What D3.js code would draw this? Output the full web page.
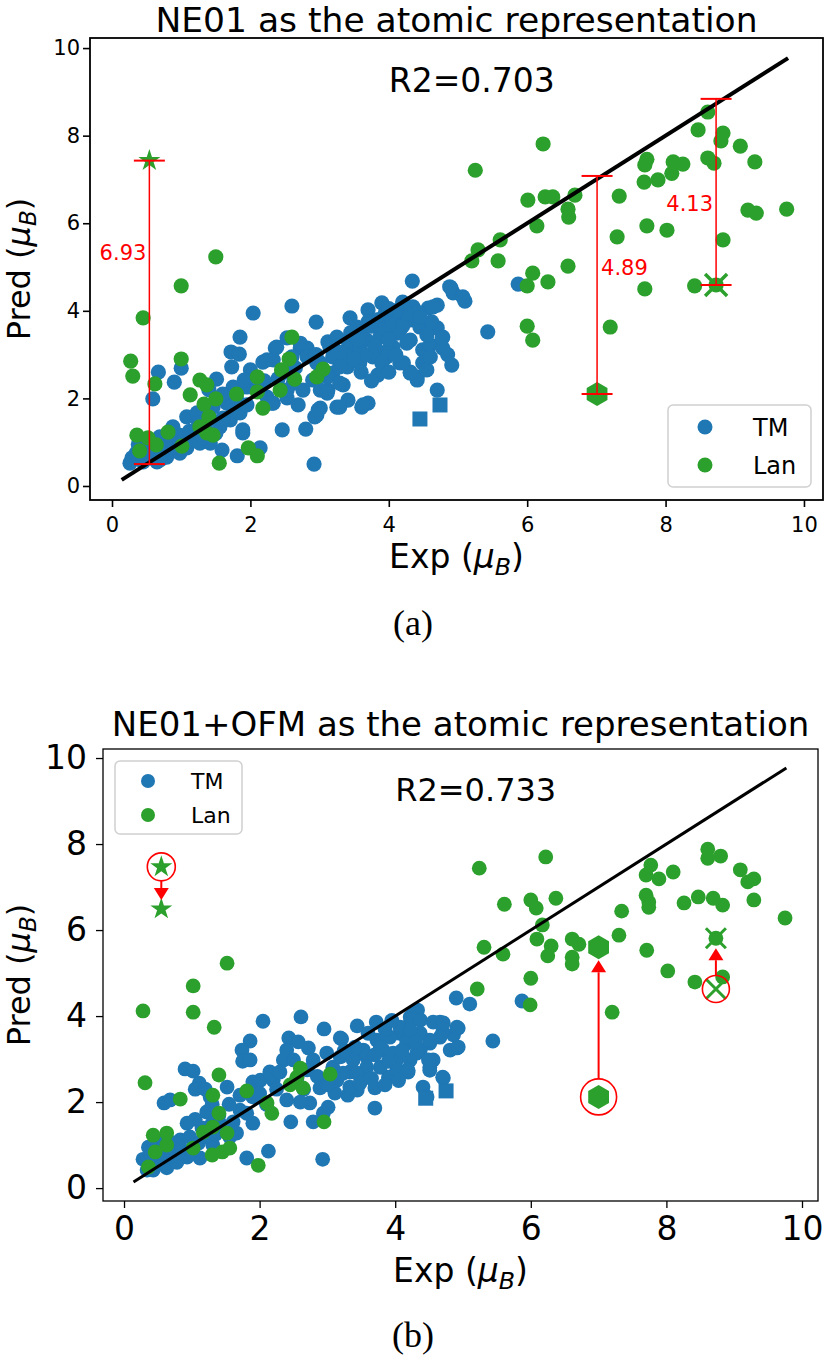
<!DOCTYPE html>
<html><head><meta charset="utf-8">
<script src="https://cdn.jsdelivr.net/npm/d3@7"></script>
<style>
body{margin:0;background:#fff}
svg{display:block}
</style>
</head><body>
<svg id="c" width="825" height="1361" font-family="DejaVu Sans, sans-serif"></svg>
<script>
// ---------------- DATA ----------------
const xTicks = [0, 2, 4, 6, 8, 10];
const yTicks = [0, 2, 4, 6, 8, 10];
const seriesNames = ["TM", "Lan"];
const titles = ["NE01 as the atomic representation", "NE01+OFM as the atomic representation"];
const r2Labels = ["R2=0.703", "R2=0.733"];
const captions = ["(a)", "(b)"];

// Panel (a): [Exp, Pred]
const tmA = [
[0.29,0.64],[0.26,0.52],[0.45,0.55],[0.65,0.55],[0.79,0.66],[0.98,0.75],[0.88,0.89],[1.08,0.87],[0.88,1.35],[0.69,1.12],[0.55,1.05],[1.17,1.05],[1.27,0.98],[1.42,0.98],[1.23,1.23],[1.08,1.58],[1.23,1.67],[1.56,1.35],[1.71,1.51],[1.75,1.74],[1.85,1.67],[1.95,1.85],[1.66,1.89],[1.46,1.80],[1.75,2.26],[1.95,2.26],[2.24,2.03],[2.33,1.89],[2.47,2.19],[2.62,2.35],[2.76,2.19],[2.90,2.42],
[0.35,0.75],[0.40,0.62],[0.55,0.70],[0.60,0.85],[0.72,0.80],[0.75,0.95],[0.95,1.00],[1.00,1.15],[1.12,1.25],[0.50,0.90],[0.38,0.95],[1.30,1.10],[1.35,1.40],[1.50,1.20],[1.60,1.55],[1.25,1.45],[0.92,1.20],[1.05,0.95],[0.82,1.05],[0.70,0.60],
[2.04,3.95],[2.60,4.11],[2.95,3.74],[1.85,3.40],[1.72,3.06],[1.84,3.01],[1.73,2.72],[0.67,2.60],[0.90,2.37],[1.00,2.69],[0.59,1.99],[1.51,2.44],[2.00,2.65],[1.91,2.42],[2.18,2.83],[2.36,3.15],[2.33,2.88],[2.53,3.38],[2.72,3.15],[2.82,3.15],[2.46,1.28],[2.80,1.30],[2.92,0.50],[1.81,0.69],[1.89,1.21],[1.59,0.82],[2.14,0.87],[2.69,1.85],[2.53,2.01],[2.96,1.62],[3.01,1.78],[3.25,1.80],[3.41,1.96],[3.61,1.80],[3.70,1.89],[3.84,2.53],[4.16,2.81],[4.41,2.49],[3.34,2.31],[3.12,2.19],[3.01,2.81],[3.15,3.17],[3.44,3.84],[3.70,4.02],[3.90,4.18],[3.48,3.17],[3.68,3.33],[3.92,3.04],[4.16,3.56],[3.19,2.58],[3.40,2.72],[3.58,2.81],[3.77,2.95],[4.02,3.17],[4.31,3.33],[4.16,3.86],[4.35,4.09],
[4.34,4.68],[4.90,4.52],[4.93,4.41],[5.10,4.22],[5.43,3.52],[4.70,4.13],[4.57,4.06],[4.41,3.97],[4.70,3.61],[4.78,3.40],[4.49,3.11],[4.60,3.22],[4.78,3.15],[4.49,2.81],[4.91,2.76],[4.31,2.60],[4.41,2.42],[4.70,2.19],[4.12,3.49],[4.26,3.26],[4.06,3.17],[3.87,3.40],[3.54,3.63],[3.40,3.33],[3.58,3.11],[3.97,2.95],[3.40,2.95],[3.19,2.95],[3.19,3.26],[3.29,2.72],[2.72,3.26],[2.38,3.17],[2.24,2.88],[2.82,2.95],[2.96,2.81],[3.12,3.29],[3.11,2.49],[3.29,2.35],[3.01,2.19],[3.11,2.12],[3.29,1.80],[3.63,1.85],[2.98,1.74],[2.93,1.58],[1.89,1.28],[2.31,1.89],[2.53,2.19],
[4.88,4.55],[5.07,4.32],[5.87,4.61],[4.64,4.09],[4.31,3.79],[4.45,3.63],[4.77,3.38],[4.21,2.81],[4.31,2.58],
[3.60,3.50],[3.75,3.65],[3.85,3.80],[3.95,3.60],[4.05,3.75],[4.20,3.65],[4.00,3.35],[3.80,3.20],[3.65,3.00],[3.50,2.90],[3.90,2.80],[4.10,3.00],[3.30,3.05],[3.55,3.35],[4.25,3.95],[4.10,4.00],[3.95,3.95],[3.70,3.75],[3.45,3.50],[3.25,3.40],[2.95,3.00],[3.05,2.65],[2.65,2.70],[2.50,2.60],[2.40,2.45],[2.20,2.40],[2.10,2.20],[1.80,2.00],[1.60,2.10],[1.40,2.20],[2.60,2.95],[3.60,2.60],[3.75,2.40],[4.00,2.60],[4.55,2.65],[4.60,2.95],[4.85,3.00],[4.55,3.45],[4.62,3.75],[4.45,3.85],[4.20,4.20],[4.00,4.05]
];
const tmSquaresA = [[4.45,1.53],[4.74,1.85]];
const lanA = [
[1.00,4.57],[1.50,5.23],[0.45,3.84],[0.27,2.85],[0.30,2.51],[0.62,2.33],[1.00,2.90],[2.60,3.40],[2.56,2.90],[2.45,2.65],[2.64,2.44],[2.43,2.19],[2.10,2.49],[2.10,2.15],[2.18,1.78],[1.80,2.10],[2.96,2.49],[3.05,2.67],[1.27,2.42],[1.37,2.31],[1.13,2.08],[1.50,1.99],[1.33,1.87],[1.40,1.58],[1.27,1.35],[1.46,1.16],[1.37,1.21],[0.81,1.23],[0.36,1.16],[0.52,1.10],[0.64,0.94],[0.40,0.80],[1.01,0.91],[1.97,0.87],[2.10,0.69],[1.55,0.52],
[5.29,5.39],[5.20,5.14],[5.61,5.62],[5.58,5.14],
[6.23,7.81],[5.25,7.21],[6.01,6.53],[6.26,6.60],[6.37,6.60],[6.69,6.64],[6.59,6.32],[6.60,6.14],[6.14,5.94],[7.33,6.62],[7.73,7.46],[7.70,7.33],[7.69,6.94],[7.89,6.99],[8.11,7.40],[8.25,7.35],[8.09,7.14],[8.61,8.54],[8.47,8.13],[8.83,8.06],[8.80,7.88],[9.08,7.76],[9.29,7.40],[8.61,7.49],[8.70,7.37],[9.19,6.30],[9.31,6.23],[9.75,6.32],[8.83,5.62],[7.73,5.94],[8.02,5.84],[7.30,5.69],[6.59,5.02],[6.08,4.86],[6.00,4.57],[6.30,4.66],[7.70,4.50],[8.42,4.57],[6.00,3.65],[6.08,3.33],[7.20,3.63]
];
// highlighted samples in (a): [Exp, Pred, bar end]
const starA = [0.54, 7.43, 0.50];
const hexA  = [7.01, 2.10, 7.08];
const crossA = [8.73, 4.59, 8.84];
const barLabelsA = ["6.93", "4.89", "4.13"];
const barLabelY = [5.34, 4.98, 6.46];

// Panel (b)
const tmB = [
[2.05,3.88],[2.61,3.98],[2.95,3.70],[3.44,3.77],[3.72,3.86],[3.21,3.47],[1.86,3.42],[1.74,3.21],[1.75,2.95],[1.86,2.98],[2.43,3.49],[2.57,3.40],[2.72,3.26],[2.40,3.21],[2.35,2.98],[2.50,2.98],[2.79,2.98],[0.90,2.77],[1.02,2.72],[1.11,2.44],[1.05,2.30],[1.52,2.35],[1.27,2.12],[0.59,1.98],[0.68,2.05],[1.90,2.47],[2.01,2.51],[2.15,2.70],[2.20,2.51],[1.90,2.12],[1.71,2.16],[1.22,1.77],[0.93,1.51],[1.71,1.81],[1.90,1.51],[1.81,1.74],[1.61,1.54],[1.66,1.28],[1.56,1.19],[1.31,1.00],[1.12,0.70],[0.93,0.72],[0.83,1.12],[0.97,1.19],[0.73,1.05],[0.63,0.72],[0.63,0.47],[0.43,0.42],[0.28,0.67],[0.34,0.42],[0.36,0.95],[0.78,0.60],[1.81,0.70],[2.13,0.86],[2.93,0.67],[2.46,1.54],[2.79,1.54],[3.01,1.88],[2.94,1.74],[3.70,1.86],[2.74,1.98],[2.60,2.00],[2.40,2.05],[2.89,2.33],[3.11,2.21],[3.30,2.16],[3.44,2.28],[3.70,2.33],[3.90,2.58],[4.19,2.70],[3.14,2.51],[3.33,2.70],[3.53,2.56],[4.02,2.98],[4.07,3.60],[4.22,3.84],[3.53,3.21],[3.73,3.44],[3.38,3.05],[3.82,3.21],[3.08,2.81],[2.99,3.14],
[4.90,4.42],[5.10,4.28],[5.44,3.42],[4.33,4.14],[4.22,3.98],[4.66,3.86],[4.93,3.72],[4.86,3.56],[4.70,3.63],[4.91,3.26],[4.81,3.21],[4.51,3.37],[4.37,3.21],[4.56,2.98],[4.51,2.81],[4.22,2.98],[4.17,2.74],[4.70,2.58],[4.41,2.35],[4.47,2.12],[3.19,3.49],[3.41,3.28],[3.58,3.05],[3.78,3.28],[3.92,3.51],[4.07,3.74],[4.17,3.44],[3.97,3.14],[3.78,2.81],[3.58,2.81],[3.38,2.98],[3.19,3.05],[3.23,2.67],[3.44,2.67],[4.02,2.74],[3.33,2.35],[3.48,2.44],
[4.27,4.07],[4.37,3.91],[4.56,3.86],[4.71,3.84],[4.91,3.74],[4.93,3.28],[4.66,3.51],[4.51,3.44],[4.37,3.60],[4.22,3.67],[4.17,3.37],[4.32,3.14],[4.49,2.98],[4.51,2.74],[4.19,2.74],[4.71,2.56],[5.87,4.35],
[0.45,0.60],[0.55,0.80],[0.50,1.00],[0.70,0.85],[0.85,0.90],[1.00,0.85],[1.10,1.05],[1.20,1.20],[1.35,1.25],[1.45,1.45],[1.30,1.50],[1.15,1.40],[0.40,0.75],[0.60,1.10],[1.05,1.60],[1.40,1.70],[1.55,1.95],[1.30,1.95],[1.20,2.30],[2.00,2.20],[2.10,1.95],[2.25,2.30],[2.55,2.55],[2.65,2.30],[2.85,2.60],[3.00,2.40],[2.30,2.70],[2.70,2.75],[3.25,3.20],[3.60,3.60],[3.85,3.70],[3.95,3.90],[4.10,3.20],[3.70,3.10],[3.90,2.95],[3.65,2.55],[4.30,3.40],[4.05,2.50],[3.85,2.40]
];
const tmSquaresB = [[4.45,2.09],[4.75,2.26]];
const lanB = [
[0.28,4.12],[1.02,4.09],[1.02,4.70],[1.52,5.23],[1.33,3.74],[0.31,2.45],[0.83,2.07],[1.40,2.63],[1.31,2.16],[1.40,1.74],[1.81,2.26],[2.11,1.98],[2.18,1.74],[2.45,2.40],[2.60,2.79],[2.55,2.58],[2.64,2.33],[3.04,2.65],[2.95,1.54],[1.52,1.28],[1.31,1.42],[1.17,1.30],[1.02,0.93],[1.30,0.77],[1.45,0.84],[1.56,0.93],[0.43,1.23],[0.63,1.28],[0.63,1.00],[0.46,0.84],[0.36,0.49],[1.98,0.53],
[5.21,4.63],[6.22,7.70],[5.24,7.44],[5.61,6.60],[6.00,6.70],[6.08,6.51],[6.37,6.74],[6.17,6.12],[6.09,5.79],[6.30,5.63],[6.25,5.40],[6.61,5.79],[6.71,5.67],[6.61,5.37],[6.61,5.21],[6.00,4.88],[5.99,4.26],[5.31,5.60],[5.59,5.44],[7.34,6.44],[7.30,5.88],[7.71,5.53],[8.02,5.05],[8.42,4.79],[8.83,4.91],[7.20,4.09],[7.70,6.81],[7.74,6.65],[7.74,6.53],[7.77,7.51],[7.70,7.28],[7.89,7.19],[8.10,7.35],[8.26,6.63],[8.47,6.77],[8.69,6.74],[8.83,6.58],[8.61,7.88],[8.61,7.67],[8.80,7.72],[9.09,7.40],[9.20,7.12],[9.29,7.19],[9.29,6.70],[9.75,6.28]
];
// highlighted samples in (b): [Exp, Pred before, Pred after]
const starB = [0.55, 7.47, 6.49];
const hexB  = [7.00, 2.12, 5.60];
const crossB = [8.73, 4.63, 5.81];
const idealRange = [0.14, 9.77];

// ---------------- DRAW ----------------
const C_TM = "#1f77b4", C_LAN = "#2ca02c", RED = "#ff0000";
const svg = d3.select("#c");

function hexPath(r){
  const pts = d3.range(6).map(k => {const a = Math.PI/2 + k*Math.PI/3; return [r*Math.cos(a), -r*Math.sin(a)];});
  return "M" + pts.map(p => p.join(",")).join("L") + "Z";
}
function muLabel(sel, prefix, fs){
  sel.append("tspan").text(prefix + " (");
  sel.append("tspan").attr("font-style","oblique").text("μ");
  sel.append("tspan").attr("font-style","oblique").attr("font-size", fs*0.72).attr("dy", fs*0.2).text("B");
  sel.append("tspan").attr("dy", -fs*0.2).text(")");
}

function drawPanel(P){
  const g = svg.append("g");
  const x = d3.scaleLinear().domain(P.xDom).range([P.left, P.right]);
  const y = d3.scaleLinear().domain(P.yDom).range([P.bottom, P.top]);
  const R = P.dotR;

  const xa = g.append("g").attr("transform", `translate(0,${P.bottom})`)
    .call(d3.axisBottom(x).tickValues(xTicks).tickFormat(d3.format("d")).tickSize(7).tickPadding(P.xPad));
  const ya = g.append("g").attr("transform", `translate(${P.left},0)`)
    .call(d3.axisLeft(y).tickValues(yTicks).tickFormat(d3.format("d")).tickSize(7).tickPadding(P.yPad));
  [xa, ya].forEach(a => {
    a.attr("font-family", null).attr("font-size", null);
    a.select(".domain").remove();
    a.selectAll(".tick line").attr("stroke","#000").attr("stroke-width", P.tickW);
    a.selectAll(".tick text").attr("font-size", P.tickFs).attr("fill","#000");
  });

  g.append("g").selectAll("circle").data(P.tm).join("circle")
    .attr("cx", d => x(d[0])).attr("cy", d => y(d[1])).attr("r", R).attr("fill", C_TM);
  g.append("g").selectAll("rect").data(P.sq).join("rect")
    .attr("x", d => x(d[0]) - 7.5).attr("y", d => y(d[1]) - 7.5).attr("width", 15).attr("height", 15).attr("fill", C_TM);
  g.append("g").selectAll("circle").data(P.lan).join("circle")
    .attr("cx", d => x(d[0])).attr("cy", d => y(d[1])).attr("r", R).attr("fill", C_LAN);

  g.append("line").attr("x1", x(idealRange[0])).attr("y1", y(idealRange[0]))
    .attr("x2", x(idealRange[1])).attr("y2", y(idealRange[1]))
    .attr("stroke","#000").attr("stroke-width", P.lineW);

  g.append("rect").attr("x", P.left).attr("y", P.top).attr("width", P.right-P.left).attr("height", P.bottom-P.top)
    .attr("fill","none").attr("stroke","#000").attr("stroke-width", P.spineW);

  g.append("text").attr("x", (P.left+P.right)/2).attr("y", P.titleY).attr("text-anchor","middle")
    .attr("font-size", P.titleFs).text(P.title);
  g.append("text").attr("x", x(4)).attr("y", y(9)).attr("font-size", P.r2Fs).text(P.r2);
  const xl = g.append("text").attr("x", (P.left+P.right)/2).attr("y", P.xlabY).attr("text-anchor","middle").attr("font-size", 33);
  muLabel(xl, "Exp", 33);
  const yl = g.append("text").attr("transform", `translate(${P.ylabX},${(P.top+P.bottom)/2}) rotate(-90)`).attr("text-anchor","middle").attr("font-size", 32);
  muLabel(yl, "Pred", 32);
  g.append("text").attr("x", 413).attr("y", P.capY).attr("text-anchor","middle")
    .attr("font-family","Liberation Serif, DejaVu Serif, serif").attr("font-size", 36).text(P.caption);

  const L = P.legend;
  g.append("rect").attr("x", L.x).attr("y", L.y).attr("width", L.w).attr("height", L.h).attr("rx", 5)
    .attr("fill","#fff").attr("fill-opacity",0.8).attr("stroke","#d0d0d0").attr("stroke-width",1.5);
  [C_TM, C_LAN].forEach((c, i) => {
    g.append("circle").attr("cx", L.dotX).attr("cy", L.rowY[i]).attr("r", L.dotR).attr("fill", c);
    g.append("text").attr("x", L.textX).attr("y", L.rowY[i] + L.fs*0.36).attr("font-size", L.fs).text(seriesNames[i]);
  });
  return {g, x, y};
}

// ---- Panel (a)
const A = drawPanel({
  left:90, right:823, top:38, bottom:500, xDom:[-0.318,10.275], yDom:[-0.32,10.23],
  tm:tmA, sq:tmSquaresA, lan:lanA, dotR:7.6, lineW:4, spineW:1.8, tickW:1.6, tickFs:21, xPad:10, yPad:3,
  title:titles[0], titleFs:34.5, titleY:32, r2:r2Labels[0], r2Fs:33, xlabY:568, ylabX:30, caption:captions[0], capY:635,
  legend:{x:668, y:405, w:143, h:82, dotX:705, rowY:[427,465], dotR:7.5, textX:753, fs:24}
});
(function(){
  const {g, x, y} = A;
  g.append("path").attr("d", d3.symbol(d3.symbolStar, 150)()).attr("fill", C_LAN)
    .attr("transform", `translate(${x(starA[0])},${y(starA[1])})`);
  g.append("path").attr("d", hexPath(12)).attr("fill", C_LAN)
    .attr("transform", `translate(${x(hexA[0])},${y(hexA[1])})`);
  const cx = x(crossA[0]), cy = y(crossA[1]);
  g.append("circle").attr("cx", cx).attr("cy", cy).attr("r", 7.6).attr("fill", C_LAN);
  g.append("path").attr("d", "M-11,-11L11,11M-11,11L11,-11").attr("stroke", C_LAN).attr("stroke-width", 3.5)
    .attr("transform", `translate(${cx},${cy})`);
  [starA, hexA, crossA].forEach((s, i) => {
    const px = x(s[0]);
    g.append("line").attr("x1", px).attr("x2", px).attr("y1", y(s[1])).attr("y2", y(s[2]))
      .attr("stroke", RED).attr("stroke-width", 1.5);
    [s[1], s[2]].forEach(v => g.append("line").attr("x1", px-15.5).attr("x2", px+15.5)
      .attr("y1", y(v)).attr("y2", y(v)).attr("stroke", RED).attr("stroke-width", 2));
    const anchorEnd = i !== 1;
    g.append("text").attr("x", px + (anchorEnd ? -3 : 4)).attr("y", y(barLabelY[i])).attr("dy","0.36em")
      .attr("text-anchor", anchorEnd ? "end" : "start").attr("font-size", 21).attr("fill", RED).text(barLabelsA[i]);
  });
})();

// ---- Panel (b)
const B = drawPanel({
  left:103, right:818, top:749, bottom:1201, xDom:[-0.31,10.236], yDom:[-0.30,10.21],
  tm:tmB, sq:tmSquaresB, lan:lanB, dotR:7.4, lineW:3, spineW:1.3, tickW:1.3, tickFs:33, xPad:9, yPad:9,
  title:titles[1], titleFs:34, titleY:736, r2:r2Labels[1], r2Fs:32, xlabY:1282, ylabX:30, caption:captions[1], capY:1347,
  legend:{x:115, y:761, w:127, h:73, dotX:148, rowY:[781,815], dotR:7, textX:191, fs:22}
});
(function(){
  const {g, x, y} = B;
  const arrow = (px, y1, y2) => {
    const dir = y2 > y1 ? 1 : -1, hl = 12, hw = 7.5;
    g.append("line").attr("x1", px).attr("x2", px).attr("y1", y1).attr("y2", y2 - dir*hl)
      .attr("stroke", RED).attr("stroke-width", 2);
    g.append("path").attr("d", `M${px},${y2}L${px-hw},${y2-dir*hl}L${px+hw},${y2-dir*hl}Z`).attr("fill", RED);
  };
  const circ = (px, py, r) => g.append("circle").attr("cx", px).attr("cy", py).attr("r", r)
    .attr("fill","none").attr("stroke", RED).attr("stroke-width", 1.6);
  const xmark = (px, py) => g.append("path").attr("d", "M-10,-10L10,10M-10,10L10,-10")
    .attr("stroke", C_LAN).attr("stroke-width", 3).attr("transform", `translate(${px},${py})`);

  const sx = x(starB[0]);
  [starB[1], starB[2]].forEach(v => g.append("path").attr("d", d3.symbol(d3.symbolStar, 150)()).attr("fill", C_LAN)
    .attr("transform", `translate(${sx},${y(v)})`));
  circ(sx, y(starB[1]), 14);
  arrow(sx, y(starB[1]) + 14, y(starB[2]) - 9);

  const hx = x(hexB[0]);
  [hexB[1], hexB[2]].forEach(v => g.append("path").attr("d", hexPath(12)).attr("fill", C_LAN)
    .attr("transform", `translate(${hx},${y(v)})`));
  circ(hx, y(hexB[1]), 18);
  arrow(hx, y(hexB[1]) - 18, y(hexB[2]) + 13);

  const cx = x(crossB[0]);
  xmark(cx, y(crossB[1]));
  g.append("circle").attr("cx", cx).attr("cy", y(crossB[2])).attr("r", 7.4).attr("fill", C_LAN);
  xmark(cx, y(crossB[2]));
  circ(cx, y(crossB[1]), 13.5);
  arrow(cx, y(crossB[1]) - 13.5, y(crossB[2]) + 10);
})();
</script>
</body></html>
